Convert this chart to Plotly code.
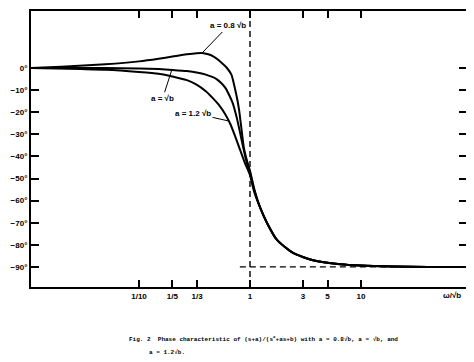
import math
import plotly.graph_objects as go

# ---- data (omega / sqrt(b), phase in degrees) ----
omega_a08 = [0.0106, 0.02, 0.05, 0.1, 0.15, 0.2, 0.27, 0.33, 0.37, 0.42, 0.47, 0.52, 0.57, 0.62,
             0.68, 0.73, 0.77, 0.8, 0.84, 0.88, 0.94, 1.0, 1.09, 1.23, 1.42, 1.75, 2.44, 3.7, 6.5,
             10, 20, 40, 90]
phase_a08 = [0, 0.6, 1.7, 3.0, 4.2, 5.2, 6.2, 6.7, 6.8, 6.2, 5.2, 3.6, 1.8, 0,
             -3, -9, -14.5, -19.5, -28, -36, -42, -46.5, -54.5, -63, -70, -77.8, -83.7, -87, -88.8,
             -89.4, -89.8, -90, -90]

omega_a10 = [0.0106, 0.05, 0.1, 0.15, 0.2, 0.27, 0.33, 0.4, 0.5, 0.55, 0.6, 0.66, 0.7, 0.76,
             0.8, 0.86, 0.92, 1.0, 1.09, 1.23, 1.42, 1.75, 2.44, 3.7, 6.5, 10, 20, 40, 90]
phase_a10 = [0, 0, -0.2, -0.5, -0.9, -1.4, -2.0, -3.0, -5.0, -6.8, -9, -13, -16, -22.5,
             -27.5, -35, -41.5, -47.5, -55.2, -63, -70, -77.8, -83.7, -87, -88.8, -89.4, -89.8, -90, -90]

omega_a12 = [0.0106, 0.03, 0.05, 0.1, 0.15, 0.2, 0.27, 0.33, 0.4, 0.46, 0.52, 0.6, 0.66, 0.73,
             0.8, 0.9, 1.0, 1.09, 1.23, 1.42, 1.75, 2.44, 3.7, 6.5, 10, 20, 40, 90]
phase_a12 = [0, -0.5, -0.8, -1.8, -2.6, -3.8, -5.5, -7.5, -10.5, -13.5, -16.5, -21, -25, -30.5,
             -36, -43, -48.5, -56, -63, -70, -77.8, -83.7, -87, -88.8, -89.4, -89.8, -90, -90]

x_tick_vals = [0.1, 0.2, 1 / 3, 1, 3, 5, 10]
x_tick_text = ["1/10", "1/5", "1/3", "1", "3", "5", "10"]
y_tick_vals = [0, -10, -20, -30, -40, -50, -60, -70, -80, -90]
y_tick_text = ["0°", "−10°", "−20°", "−30°", "−40°", "−50°", "−60°", "−70°", "−80°", "−90°"]

resonance_omega = [1, 1]
resonance_phase = [-99.1, 25.8]
asymptote_omega = [0.81, 90]
asymptote_phase = [-90, -90]

X_RANGE = [-1.973, 1.955]
Y_RANGE = [-99.1, 25.8]

fig = go.Figure()

dash_style = dict(color="black", width=1.4, dash="6px,4px")
fig.add_trace(go.Scatter(x=resonance_omega, y=resonance_phase, mode="lines",
                         line=dash_style, hoverinfo="skip", showlegend=False))
fig.add_trace(go.Scatter(x=asymptote_omega, y=asymptote_phase, mode="lines",
                         line=dash_style, hoverinfo="skip", showlegend=False))

for om, ph, name in [(omega_a08, phase_a08, "a = 0.8√b"),
                     (omega_a10, phase_a10, "a = √b"),
                     (omega_a12, phase_a12, "a = 1.2√b")]:
    fig.add_trace(go.Scatter(x=om, y=ph, mode="lines", name=name,
                             line=dict(color="black", width=2, shape="spline", smoothing=0.6),
                             showlegend=False))

tick_font = dict(family="Liberation Sans", size=8, color="black", weight="bold")

fig.update_xaxes(type="log", range=X_RANGE, tickvals=x_tick_vals, ticktext=x_tick_text,
                 ticks="inside", ticklen=7, tickwidth=1.5, tickcolor="black",
                 showline=True, linewidth=2, linecolor="black", mirror="ticks",
                 showgrid=False, zeroline=False, tickfont=tick_font, automargin=False)
fig.update_yaxes(range=Y_RANGE, tickvals=y_tick_vals, ticktext=y_tick_text,
                 ticks="inside", ticklen=8, tickwidth=1.5, tickcolor="black",
                 showline=True, linewidth=2, linecolor="black", mirror="ticks",
                 showgrid=False, zeroline=False, tickfont=tick_font, automargin=False)

lab_font = dict(family="Liberation Sans", size=8, color="black", weight="bold")
fig.add_annotation(x=math.log10(0.37), y=6.8, text="a = 0.8 √b", showarrow=True,
                   arrowhead=0, arrowwidth=1, arrowcolor="black", ax=26, ay=-27, font=lab_font)
fig.add_annotation(x=math.log10(0.197), y=-1, text="a = √b", showarrow=True,
                   arrowhead=0, arrowwidth=1, arrowcolor="black", ax=-9, ay=28, font=lab_font)
fig.add_annotation(x=math.log10(0.647), y=-24, text="a = 1.2 √b", showarrow=True,
                   arrowhead=0, arrowwidth=1, arrowcolor="black", ax=-36, ay=-8, font=lab_font)

fig.add_annotation(xref="paper", yref="paper", x=0.966, y=-0.03, text="ω/√b",
                   showarrow=False, font=lab_font, xanchor="center", yanchor="middle")

cap_font = dict(family="Liberation Mono", size=6, color="black", weight="bold")
fig.add_annotation(xref="paper", yref="paper", x=0.22, y=-0.188, xanchor="left", yanchor="middle",
                   text="Fig. 2  Phase characteristic of (s+a)/(s<sup>2</sup>+as+b) with a = 0.8√b, a = √b, and",
                   showarrow=False, font=cap_font)
fig.add_annotation(xref="paper", yref="paper", x=0.266, y=-0.236, xanchor="left", yanchor="middle",
                   text="a = 1.2√b.", showarrow=False, font=cap_font)

# the page body has an 8px default margin, so the figure is made 8px smaller
fig.update_layout(width=466, height=354, margin=dict(l=23, r=7, t=3, b=75, autoexpand=False),
                  paper_bgcolor="white", plot_bgcolor="white")

fig.write_html("out.html")
